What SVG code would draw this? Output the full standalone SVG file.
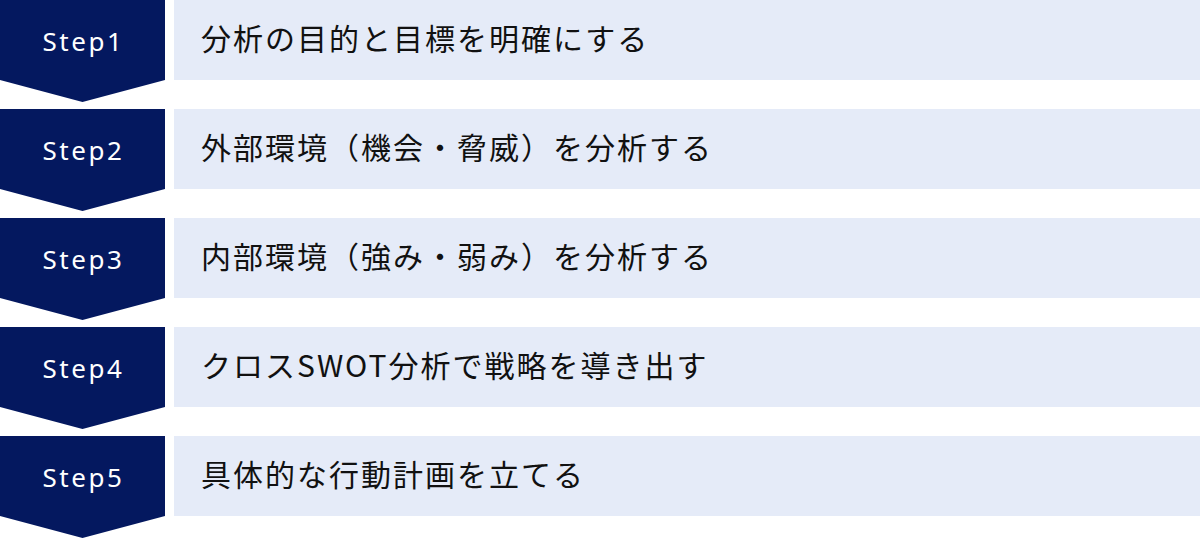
<svg xmlns="http://www.w3.org/2000/svg" width="1200" height="538" viewBox="0 0 1200 538">
<defs>
<style>
.chev{fill:#04185F}
.box{fill:#E5EBF8}
.step{font-family:"Noto Sans","Noto Sans CJK JP",sans-serif;font-size:26px;font-weight:400;fill:#FFFFFF;letter-spacing:2.6px;text-anchor:middle}
.label{font-family:"Noto Sans CJK JP","Noto Sans",sans-serif;font-size:30px;fill:#111111;letter-spacing:2px}
</style>
<path id="chevron" d="M0 0H165V80L82.5 102L0 80Z"/>
</defs>
<rect width="1200" height="538" fill="#FFFFFF"/>
<g id="connectors"></g>
<g id="step1">
<use href="#chevron" class="chev"/>
<rect class="box" x="174" y="0" width="1026" height="80"/>
<text class="step" x="83.5" y="51">Step1</text>
<text class="label" x="201" y="50">分析の目的と目標を明確にする</text>
</g>
<g id="step2" transform="translate(0,109)">
<use href="#chevron" class="chev"/>
<rect class="box" x="174" y="0" width="1026" height="80"/>
<text class="step" x="83.5" y="51">Step2</text>
<text class="label" x="201" y="50">外部環境（機会・脅威）を分析する</text>
</g>
<g id="step3" transform="translate(0,218)">
<use href="#chevron" class="chev"/>
<rect class="box" x="174" y="0" width="1026" height="80"/>
<text class="step" x="83.5" y="51">Step3</text>
<text class="label" x="201" y="50">内部環境（強み・弱み）を分析する</text>
</g>
<g id="step4" transform="translate(0,327)">
<use href="#chevron" class="chev"/>
<rect class="box" x="174" y="0" width="1026" height="80"/>
<text class="step" x="83.5" y="51">Step4</text>
<text class="label" x="201" y="50">クロスSWOT分析で戦略を導き出す</text>
</g>
<g id="step5" transform="translate(0,436)">
<use href="#chevron" class="chev"/>
<rect class="box" x="174" y="0" width="1026" height="80"/>
<text class="step" x="83.5" y="51">Step5</text>
<text class="label" x="201" y="50">具体的な行動計画を立てる</text>
</g>
</svg>
